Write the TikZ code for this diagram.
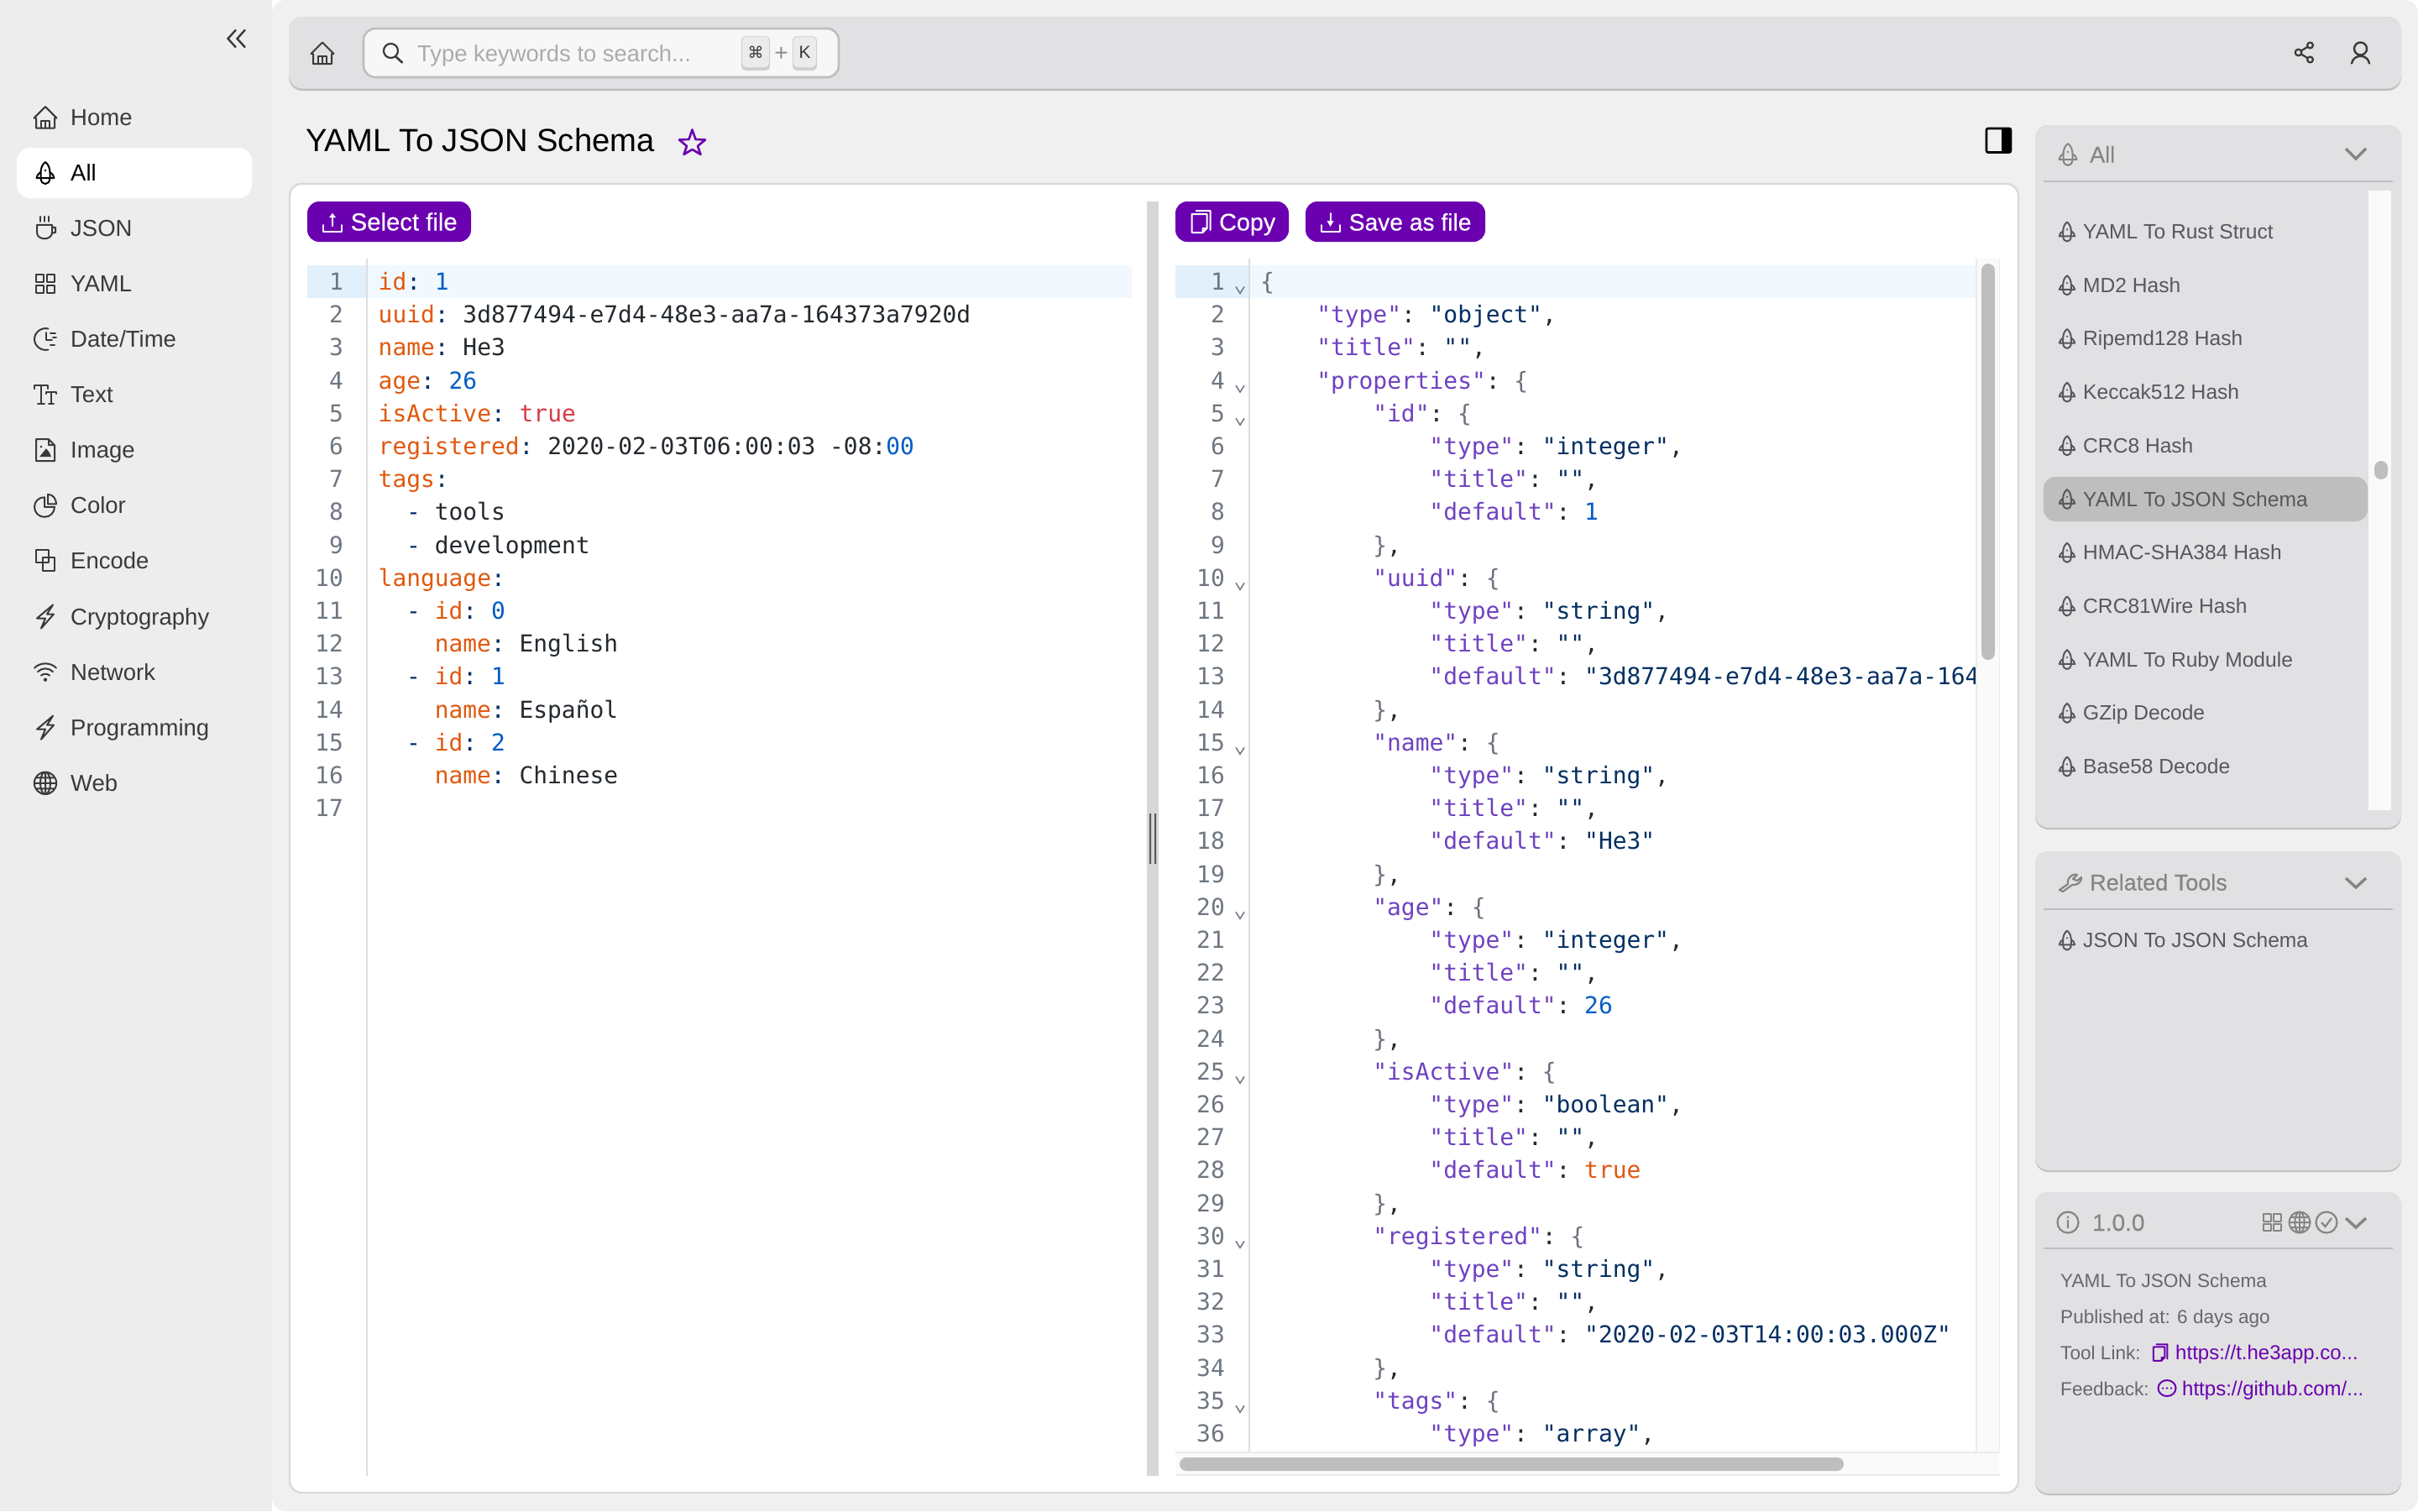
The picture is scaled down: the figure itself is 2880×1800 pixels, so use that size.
\documentclass[tikz,border=0pt]{standalone}
\usepackage{fontspec}
\setmainfont{Liberation Sans}
\setmonofont{DejaVu Sans Mono}
\newfontfamily\symfont{DejaVu Sans}
\newfontfamily\medfont[FakeBold=0.35]{Liberation Sans}
\definecolor{sidebg}{HTML}{EDEDED}
\definecolor{mainbg}{HTML}{F0F0F0}
\definecolor{barbg}{HTML}{E1E1E3}
\definecolor{barln}{HTML}{BEBEC0}
\definecolor{purp}{HTML}{6A00B0}
\definecolor{gutln}{HTML}{DDDDDD}
\definecolor{hlg}{HTML}{E2F0FC}
\definecolor{hll}{HTML}{F1F8FE}
\definecolor{lnum}{HTML}{6E7781}
\definecolor{ckey}{HTML}{E0590F}
\definecolor{cnum}{HTML}{005CC5}
\definecolor{cred}{HTML}{D73A49}
\definecolor{ctxt}{HTML}{24292E}
\definecolor{cnav}{HTML}{032F62}
\definecolor{cprp}{HTML}{6F42C1}
\definecolor{cbrc}{HTML}{6A737D}
\definecolor{sbar}{HTML}{BEBEBE}
\definecolor{icon}{HTML}{3A3A3A}
\definecolor{listx}{HTML}{58585C}
\definecolor{headx}{HTML}{858585}
\definecolor{metax}{HTML}{68686A}
\definecolor{srch}{HTML}{F8F7F8}
\definecolor{keycap}{HTML}{EBEBEC}
\definecolor{keysh}{HTML}{CFCFD1}
\newcommand{\fs}[1]{\fontsize{#1}{#1}\selectfont}
\newcommand{\cK}[1]{\textcolor{ckey}{#1}}
\newcommand{\cN}[1]{\textcolor{cnum}{#1}}
\newcommand{\cR}[1]{\textcolor{cred}{#1}}
\newcommand{\cC}{\textcolor{cnav}{:}}
\newcommand{\cD}{\textcolor{cnav}{-}}
\newcommand{\cPr}[1]{\textcolor{cprp}{"#1"}\textcolor{ctxt}{:}}
\newcommand{\cSt}[1]{\textcolor{cnav}{"#1"}}
\newcommand{\cOb}{\textcolor{cbrc}{\{}}
\newcommand{\cCl}{\textcolor{cbrc}{\}}\textcolor{ctxt}{,}}
\newcommand{\cCo}{\textcolor{ctxt}{,}}
% editor helpers: line n -> y = 335.5 + 39.2 (n-1)
\newcommand{\lineY}[1]{(335.5+39.2*(#1-1))}
\newcommand{\yl}[3]{%
  \node[lnumnode] (yn#1) at (409,{\lineY{#1}+10}) {#1};
  \node[codenode] (yc#1) at ({450.5+16.77*#2},{\lineY{#1}+10}) {#3};}
\newcommand{\jn}[1]{\node[lnumnode] (jn#1) at (1459,{\lineY{#1}+10}) {#1};}
\newcommand{\jl}[3]{\jn{#1}\node[codenode] (jc#1) at ({1501+16.77*#2},{\lineY{#1}+10}) {#3};}
\newcommand{\fold}[1]{\draw[foldline] (1472,{\lineY{#1}+6}) -- (1477,{\lineY{#1}+14}) -- (1482,{\lineY{#1}+6});}
\newcommand{\jo}[3]{\jl{#1}{#2}{\cPr{#3} \cOb}\fold{#1}}
\newcommand{\jty}[2]{\jl{#1}{12}{\cPr{type} \cSt{#2}\cCo}}
\newcommand{\jti}[1]{\jl{#1}{12}{\cPr{title} \cSt{}\cCo}}
\newcommand{\jcl}[1]{\jl{#1}{8}{\cCl}}
\tikzset{
  lnumnode/.style={inner sep=0pt,anchor=base east,text=lnum,font=\ttfamily\fs{27.9}},
  codenode/.style={inner sep=0pt,anchor=base west,text=ctxt,font=\ttfamily\fs{27.9}},
  foldline/.style={draw=lnum,line width=1.5pt},
  sidetxt/.style={inner sep=0pt,anchor=base west,text=icon,font=\fs{27.5}},
  listtxt/.style={inner sep=0pt,anchor=base west,text=listx,font=\fs{24.6}},
  headtxt/.style={inner sep=0pt,anchor=base west,text=headx,font=\medfont\fs{27}},
  metatxt/.style={inner sep=0pt,anchor=base west,text=metax,font=\fs{22.6}},
  linktxt/.style={inner sep=0pt,anchor=base west,text=purp,font=\fs{24}},
  btntxt/.style={inner sep=0pt,anchor=base west,text=white,font=\medfont\fs{28.7}},
  btn/.style={fill=purp,rounded corners=14pt},
  panel/.style={fill=barbg,rounded corners=16pt},
  panelln/.style={draw=barln,line width=2pt},
  chev/.style={draw=#1,line width=3.4pt,line join=miter},
  chev/.default={headx},
  ico/.style={line width=2pt,line join=round,line cap=round},
  pics/rocketico/.style={code={
    \draw[ico,pic actions] (0,-13) .. controls (4,-10) and (5.5,-5) .. (5.5,0) -- (5.5,6) (0,-13) .. controls (-4,-10) and (-5.5,-5) .. (-5.5,0) -- (-5.5,6);
    \draw[ico,pic actions] (-5.5,-1) .. controls (-8,1) and (-10.5,3) .. (-10.5,6) -- (10.5,6) .. controls (10.5,3) and (8,1) .. (5.5,-1);
    \draw[ico,pic actions] (-5.5,6) .. controls (-5,11) and (-3,13) .. (0,13) .. controls (3,13) and (5,11) .. (5.5,6);
    \fill[pic actions] (0,-3) circle (1.4);
  }},
  pics/homeico/.style={code={
    \draw[ico,pic actions] (-13.5,1) -- (0,-12.5) -- (13.5,1) (-13.5,1) -- (-11,1) -- (-11,13) -- (11,13) -- (11,1) -- (13.5,1);
    \draw[ico,pic actions] (-5,13) -- (-5,4) -- (5,4) -- (5,13) (0,4) -- (0,13);
  }},
  pics/cupico/.style={code={
    \draw[ico,pic actions] (-6,-14) -- (-6,-8) (-1,-14) -- (-1,-8) (4,-14) -- (4,-8);
    \draw[ico,pic actions] (-10,-4) -- (8,-4) -- (8,5) .. controls (8,15) and (-10,15) .. (-10,5) -- cycle;
    \draw[ico,pic actions] (8,-1) -- (12,-1) -- (12,5) -- (8,6);
  }},
  pics/gridico/.style={code={
    \draw[ico,pic actions] (-11,-11) rectangle (-2,-1.5) (2,-11) rectangle (11,-1.5) (-11,2) rectangle (-2,11) (2,2) rectangle (11,11);
  }},
  pics/clockico/.style={code={
    \draw[ico,pic actions] (3.5,-12.5) .. controls (-5,-14.5) and (-13,-8) .. (-13,0) .. controls (-13,8) and (-5,14.5) .. (3.5,12.5);
    \draw[ico,pic actions] (1,-8) -- (1,1) -- (8,1) (6,-7) -- (12,-7) (9,-2) -- (13,-2) (6,7) -- (11,7);
  }},
  pics/textico/.style={code={
    \draw[ico,pic actions] (-13,-7) -- (-13,-11) -- (3,-11) -- (3,-7) (-5,-11) -- (-5,11) (-9,11) -- (-1,11);
    \draw[ico,pic actions] (1,-1) -- (1,-3) -- (13,-3) -- (13,-1) (7,-3) -- (7,11) (4,11) -- (10,11);
  }},
  pics/imgico/.style={code={
    \draw[ico,pic actions] (4,-13) -- (-11,-13) -- (-11,13) -- (11,13) -- (11,-6) -- cycle (4,-13) -- (4,-6) -- (11,-6);
    \fill[pic actions] (-7,8) -- (1,-2) -- (5,3) -- (7,8) -- cycle;
    \fill[pic actions] (-5,-4) circle (1.5);
  }},
  pics/pieico/.style={code={
    \draw[ico,pic actions] (-1,-10) .. controls (-8,-10) and (-13,-5) .. (-13,1.5) .. controls (-13,8.5) and (-7.5,13.5) .. (-1,13.5) .. controls (6,13.5) and (11,8) .. (11,1.5) -- (-1,1.5) -- cycle;
    \draw[ico,pic actions] (3,-13.5) .. controls (9,-13.5) and (13,-8) .. (13,-2) -- (3,-2) -- cycle;
  }},
  pics/encico/.style={code={
    \draw[ico,pic actions] (-11,-13) rectangle (4,2) (-3,-4) rectangle (11,12);
  }},
  pics/boltico/.style={code={
    \draw[ico,pic actions] (9,-14) -- (-10,2) -- (0,2) -- (-5,14) (9,-14) -- (2,-3) -- (10,-3) -- (-5,14);
  }},
  pics/wifiico/.style={code={
    \draw[ico,pic actions] (-13,-5) .. controls (-6,-12) and (6,-12) .. (13,-5);
    \draw[ico,pic actions] (-9,-0.5) .. controls (-4,-5.5) and (4,-5.5) .. (9,-0.5);
    \draw[ico,pic actions] (-5,4) .. controls (-2,1.5) and (2,1.5) .. (5,4);
    \fill[pic actions] (0,9) circle (2.2);
  }},
  pics/globeico/.style={code={
    \draw[ico,pic actions] (0,0) circle (13.2) (0,0) ellipse [x radius=6,y radius=13.2] (0,-13.2) -- (0,13.2) (-13.2,0) -- (13.2,0) (-11.5,-6.5) -- (11.5,-6.5) (-11.5,6.5) -- (11.5,6.5);
  }},
  pics/uploadico/.style={code={
    \draw[ico,pic actions] (-11,3) -- (-11,11) -- (11,11) -- (11,3) (0,4) -- (0,-10);
    \fill[pic actions] (-4,-6) -- (0,-11) -- (4,-6) -- cycle;
  }},
  pics/downico/.style={code={
    \draw[ico,pic actions] (-11,3) -- (-11,11) -- (11,11) -- (11,3) (0,-11) -- (0,2);
    \fill[pic actions] (-4,-2) -- (0,5) -- (4,-2) -- cycle;
  }},
  pics/copyico/.style={code={
    \draw[ico,pic actions] (-6,-13) -- (11,-13) -- (11,10) (7,-9) -- (-11,-9) -- (-11,13) -- (2,13) -- (7,8) -- cycle (2,13) -- (2,8) -- (7,8);
  }},
}
\begin{document}
\begin{tikzpicture}[x=1pt,y=-1pt,line cap=butt]
\useasboundingbox (0,0) rectangle (2880,1800);
% backgrounds
\fill[white] (0,0) rectangle (2880,1800);
\fill[sidebg] (0,0) rectangle (324,1800);
\fill[mainbg,rounded corners=16pt] (324,0) rectangle (2880,1800);
% sidebar
\draw[icon,line width=2.4pt,line join=miter] (281,35.5) -- (271.5,46) -- (281,56.5) (292,35.5) -- (282.5,46) -- (292,56.5);
\fill[white,rounded corners=16pt] (20,176) rectangle (300,236);
\foreach \nm/\lbl/\ic [count=\i from 0] in {Home/Home/homeico,JSON/JSON/cupico,YAML/YAML/gridico,Date/Date\slash Time/clockico,Text/Text/textico,Image/Image/imgico,Color/Color/pieico,Encode/Encode/encico,Crypto/Cryptography/boltico,Network/Network/wifiico,Prog/Programming/boltico,Web/Web/globeico}{
  \pgfmathsetmacro\idx{\i==0 ? 0 : \i+1}
  \pgfmathsetmacro\yy{139.6+66.1*\idx}
  \pic[color=icon] at (54,\yy) {\ic};
  \node[sidetxt] (side\nm) at (84,\yy+9.5) {\lbl};
}
\pic[color=black] at (54,206) {rocketico};
\node[sidetxt,text=black] (sideAll) at (84,215.4) {All};
% top bar
\fill[barln,rounded corners=16pt] (344,20) rectangle (2860,108);
\fill[barbg,rounded corners=16pt] (344,20) rectangle (2860,105.5);
\pic[color=icon] at (384,63) {homeico};
\draw[fill=srch,draw=barln,line width=2.6pt,rounded corners=14pt] (433,34) rectangle (999,92);
\draw[icon,line width=2.2pt] (465.5,60.5) circle (8.5);
\draw[icon,line width=2.6pt,line cap=round] (471,67) -- (479,74.5);
\node[inner sep=0pt,anchor=base west,text=black!33,font=\fs{27.4}] (search) at (497,73.5) {Type keywords to search...};
\fill[keysh,rounded corners=5pt] (883,43) rectangle (917,84);
\fill[keycap,rounded corners=5pt] (884,43.5) rectangle (916,80);
\node[inner sep=0pt,text=icon,font=\symfont\fs{19}] (kcmd) at (900,62.5) {⌘};
\node[inner sep=0pt,text=black!45,font=\fs{28}] (kplus) at (930.5,64) {+};
\fill[keysh,rounded corners=5pt] (944,43) rectangle (973,84);
\fill[keycap,rounded corners=5pt] (945,43.5) rectangle (972,80);
\node[inner sep=0pt,text=icon,font=\fs{21}] (kk) at (958.5,62.5) {K};
% share & user
\draw[icon,line width=2.2pt] (2751.5,54) -- (2737.5,62.5) -- (2751.5,71);
\draw[icon,line width=2.2pt,fill=barbg] (2737.5,62.5) circle (3.8) (2751.5,54) circle (3.4) (2751.5,71) circle (3.4);
\draw[icon,line width=2.4pt] (2811.5,58) circle (7.5);
\draw[icon,line width=2.4pt,line cap=round] (2801,75.5) .. controls (2803,64) and (2820,64) .. (2822,75.5);
% title
\node[inner sep=0pt,anchor=base west,text=black,font=\fs{38.2}] (title) at (364,180) {YAML To JSON Schema};
\draw[purp,line width=2.6pt,line join=round] (824.5,154.5) -- (828.5,166) -- (840,166.5) -- (831,174) -- (834.5,184) -- (824.5,178) -- (814.5,184) -- (818,174) -- (809,166.5) -- (820.5,166) -- cycle;
% toggle
\draw[black,line width=2.6pt,rounded corners=2pt] (2366,153) rectangle (2395,181.5);
\fill[black,rounded corners=1pt] (2384,153) rectangle (2395,181.5);
% card
\draw[fill=white,draw=black!15,line width=2.4pt,rounded corners=14pt] (345,219) rectangle (2404,1778);
% left editor
\fill[hlg] (366,316) rectangle (437,355);
\fill[hll] (437,316) rectangle (1348,355);
\draw[gutln,line width=1.6pt] (437,308) -- (437,1758);
\fill[btn] (366,240) rectangle (561,288);
\pic[color=white] at (396,265) {uploadico};
\node[btntxt,font=\medfont\fs{29.3}] (bsel) at (417.5,274.5) {Select file};
\yl{1}{0}{\cK{id}\cC{} \cN{1}}
\yl{2}{0}{\cK{uuid}\cC{} 3d877494-e7d4-48e3-aa7a-164373a7920d}
\yl{3}{0}{\cK{name}\cC{} He3}
\yl{4}{0}{\cK{age}\cC{} \cN{26}}
\yl{5}{0}{\cK{isActive}\cC{} \cR{true}}
\yl{6}{0}{\cK{registered}\cC{} 2020-02-03T06:00:03 -08:\cN{00}}
\yl{7}{0}{\cK{tags}\cC}
\yl{8}{2}{\cD{} tools}
\yl{9}{2}{\cD{} development}
\yl{10}{0}{\cK{language}\cC}
\yl{11}{2}{\cD{} \cK{id}\cC{} \cN{0}}
\yl{12}{4}{\cK{name}\cC{} English}
\yl{13}{2}{\cD{} \cK{id}\cC{} \cN{1}}
\yl{14}{4}{\cK{name}\cC{} Español}
\yl{15}{2}{\cD{} \cK{id}\cC{} \cN{2}}
\yl{16}{4}{\cK{name}\cC{} Chinese}
\node[lnumnode] (yn17) at (409,{\lineY{17}+10}) {17};
% divider
\fill[black!15.5] (1366,240) rectangle (1380,1758);
\fill[black!65] (1369,969) rectangle (1371,1029) (1375,969) rectangle (1377,1029);
% right editor
\fill[btn] (1400,240) rectangle (1535,288);
\pic[color=white] at (1430.5,264) {copyico};
\node[btntxt] (bcopy) at (1452,274.5) {Copy};
\fill[btn] (1555,240) rectangle (1769,288);
\pic[color=white] at (1584.5,265) {downico};
\node[btntxt,font=\medfont\fs{28.2}] (bsave) at (1606.5,274.5) {Save as file};
\fill[hlg] (1400,316) rectangle (1488,355);
\fill[hll] (1488,316) rectangle (2354,355);
\begin{scope}
\clip (1400,308) rectangle (2353.5,1729);
\draw[gutln,line width=1.6pt] (1488,308) -- (1488,1729);
\jn{1}\fold{1}
\node[codenode] (jc1) at (1501,{\lineY{1}+10}) {\cOb};
\jl{2}{4}{\cPr{type} \cSt{object}\cCo}
\jl{3}{4}{\cPr{title} \cSt{}\cCo}
\jl{4}{4}{\cPr{properties} \cOb}\fold{4}
\jo{5}{8}{id}
\jty{6}{integer}
\jti{7}
\jl{8}{12}{\cPr{default} \cN{1}}
\jcl{9}
\jo{10}{8}{uuid}
\jty{11}{string}
\jti{12}
\jl{13}{12}{\cPr{default} \cSt{3d877494-e7d4-48e3-aa7a-164373a7920d}}
\jcl{14}
\jo{15}{8}{name}
\jty{16}{string}
\jti{17}
\jl{18}{12}{\cPr{default} \cSt{He3}}
\jcl{19}
\jo{20}{8}{age}
\jty{21}{integer}
\jti{22}
\jl{23}{12}{\cPr{default} \cN{26}}
\jcl{24}
\jo{25}{8}{isActive}
\jty{26}{boolean}
\jti{27}
\jl{28}{12}{\cPr{default} \textcolor{ckey}{true}}
\jcl{29}
\jo{30}{8}{registered}
\jty{31}{string}
\jti{32}
\jl{33}{12}{\cPr{default} \cSt{2020-02-03T14:00:03.000Z}}
\jcl{34}
\jo{35}{8}{tags}
\jty{36}{array}
\end{scope}
% right editor scroll bars
\fill[black!2] (2354,308) rectangle (2382,1729);
\draw[black!8,line width=1.6pt] (2354,308) -- (2354,1729) (2381.5,308) -- (2381.5,1729);
\fill[sbar,rounded corners=8pt] (2360,314) rectangle (2376,786);
\fill[black!2] (1400,1729) rectangle (2381,1758);
\draw[black!8,line width=2pt] (1400,1730) -- (2382,1730) (1400,1757) -- (2382,1757);
\fill[sbar,rounded corners=8pt] (1405,1736) rectangle (2196,1752);
% panel 1
\fill[barln,rounded corners=16pt] (2424,149) rectangle (2860,988);
\fill[panel] (2424,149) rectangle (2860,986);
\pic[color=headx] at (2463,184) {rocketico};
\node[headtxt] (hAll) at (2489,193.5) {All};
\draw[chev] (2794,177) -- (2806,189) -- (2818,177);
\draw[panelln] (2434,216) -- (2850,216);
\fill[black!2] (2821,227) rectangle (2848,965);
\fill[sbar,rounded corners=8pt] (2828,549) rectangle (2844,571);
\fill[sbar,rounded corners=14pt] (2434,568) rectangle (2820,621);
\foreach \lbl [count=\i from 0] in {YAML To Rust Struct,MD2 Hash,Ripemd128 Hash,Keccak512 Hash,CRC8 Hash,YAML To JSON Schema,HMAC-SHA384 Hash,CRC81Wire Hash,YAML To Ruby Module,GZip Decode,Base58 Decode}{
  \pgfmathsetmacro\yy{276+63.7*\i}
  \pic[color=listx,scale=0.88] at (2462,\yy) {rocketico};
  \node[listtxt] (item\i) at (2481,\yy+8.5) {\lbl};
}
% panel 2
\fill[barln,rounded corners=16pt] (2424,1014) rectangle (2860,1396);
\fill[panel] (2424,1014) rectangle (2860,1394);
\draw[headx,line width=2.2pt,line join=round] (2453,1060) -- (2463,1053) -- (2463,1049) .. controls (2464,1044) and (2470,1040) .. (2474,1042) -- (2469,1047) -- (2474,1049) -- (2479,1045) .. controls (2480,1050) and (2474,1055) .. (2468,1054) -- (2457,1062) -- cycle;
\node[headtxt] (hRel) at (2489,1060.5) {Related Tools};
\draw[chev] (2794,1046) -- (2806,1057) -- (2818,1046);
\draw[panelln] (2434,1083) -- (2850,1083);
\pic[color=listx,scale=0.88] at (2462,1120) {rocketico};
\node[listtxt] (rel0) at (2481,1128.5) {JSON To JSON Schema};
% panel 3
\fill[barln,rounded corners=16pt] (2424,1420) rectangle (2860,1781);
\fill[panel] (2424,1420) rectangle (2860,1779);
\draw[headx,line width=2.2pt] (2463,1456) circle (12.5);
\fill[headx] (2461.8,1453) rectangle (2464.2,1463) (2461.8,1448.5) rectangle (2464.2,1451);
\node[headtxt,font=\medfont\fs{28}] (hVer) at (2492,1466) {1.0.0};
\pic[color=headx,scale=0.92] at (2706.5,1456) {gridico};
\pic[color=headx,scale=0.95] at (2739,1456) {globeico};
\draw[headx,line width=2.2pt] (2771,1456) circle (12.5);
\draw[headx,line width=2.2pt] (2765,1456) -- (2769.5,1461) -- (2777,1451);
\draw[chev] (2794,1451) -- (2806,1462) -- (2818,1451);
\draw[panelln] (2434,1487) -- (2850,1487);
\node[metatxt] (m1) at (2454,1533.5) {YAML To JSON Schema};
\node[metatxt] (m2) at (2454,1576) {Published at: 6 days ago};
\node[metatxt] (m3) at (2454,1619) {Tool Link:};
\pic[color=purp,scale=0.75] at (2573,1611) {copyico};
\node[linktxt] (l3) at (2591,1619) {https://t.he3app.co...};
\node[metatxt] (m4) at (2454,1662) {Feedback:};
\draw[purp,line width=2pt] (2581,1653.5) ellipse [x radius=10.5,y radius=9.5];
\fill[purp] (2576,1653.5) circle (1.3) (2581,1653.5) circle (1.3) (2586,1653.5) circle (1.3);
\node[linktxt] (l4) at (2599,1662) {https://github.com/...};
\end{tikzpicture}
\end{document}
